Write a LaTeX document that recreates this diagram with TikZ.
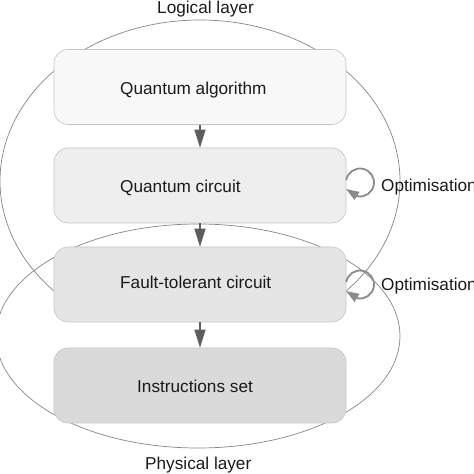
\documentclass[tikz,border=0pt]{standalone}
\usepackage{fontspec}
\setmainfont{Liberation Sans}
\usetikzlibrary{arrows.meta}
\definecolor{layerc}{HTML}{858585}
\definecolor{boxline}{HTML}{C4C4C4}
\definecolor{arrc}{HTML}{5E5E5E}
\definecolor{loopc}{HTML}{8A8A8A}
\definecolor{txt}{HTML}{1A1A1A}
\definecolor{fA}{HTML}{F8F8F8}
\definecolor{fB}{HTML}{EEEEEE}
\definecolor{fC}{HTML}{E5E5E5}
\definecolor{fD}{HTML}{DADADA}
\begin{document}
\begin{tikzpicture}[x=1pt,y=1pt,
  box/.style={draw=boxline, rounded corners=14pt, minimum width=292pt, minimum height=75pt, line width=0.6pt, inner sep=0pt},
  lbl/.style={font=\fontsize{17.2}{20}\selectfont, text=txt, inner sep=0pt, anchor=base west},
  flow/.style={draw=arrc, line width=1.4pt, -{Triangle[length=18pt,width=11pt]}},
  loopar/.style={draw=loopc, line width=1.8pt, -{Triangle[length=13pt,width=9pt]}},
  layer/.style={draw=layerc, line width=0.7pt}]
\useasboundingbox (0,0) rectangle (474,474);
% layers
\draw[layer] (200,293) ++(-50:200 and 161) arc[start angle=-50, end angle=230, x radius=200, y radius=161];
\draw[layer] (198,138) ellipse[x radius=202, y radius=112];
% boxes
\node[box, fill=fA] (b1) at (200,387) {};
\node[box, fill=fB] (b2) at (200,288.5) {};
\node[box, fill=fC] (b3) at (200,189.5) {};
\node[box, fill=fD] (b4) at (200,88.5) {};
% texts
\node[lbl] (t1) at (120,379) {Quantum algorithm};
\node[lbl] (t2) at (120,281.3) {Quantum circuit};
\node[lbl] (t3) at (120,185) {Fault-tolerant circuit};
\node[lbl] (t4) at (137,81.7) {Instructions set};
\node[lbl] (lg) at (157,460) {Logical layer};
\node[lbl] (ph) at (145,5) {Physical layer};
\node[lbl] (o1) at (381,282.3) {Optimisation};
\node[lbl] (o2) at (381,183.3) {Optimisation};
% flow arrows
\draw[flow] (b1.south) -- (b2.north);
\draw[flow] (b2.south) -- (b3.north);
\draw[flow] (b3.south) -- (b4.north);
% loops
\coordinate (c2) at (360,291.5);
\coordinate (c3) at (360,189.5);
\draw[loopar] ([shift={(170:14)}]c2) arc[start angle=170, end angle=-100, radius=14] -- ([shift={(-14,-6.5)}]c2);
\draw[loopar] ([shift={(170:14)}]c3) arc[start angle=170, end angle=-100, radius=14] -- ([shift={(-14,-6.5)}]c3);
\end{tikzpicture}
\end{document}
